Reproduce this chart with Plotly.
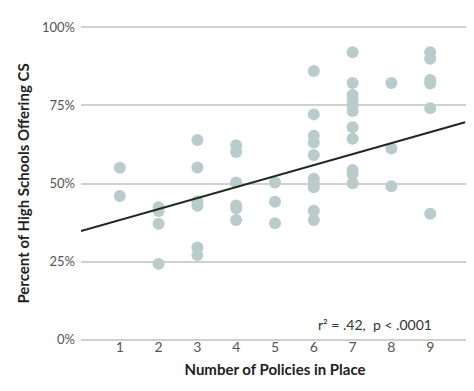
import plotly.graph_objects as go

# number of policies in place for each point
policies = [1, 1,
            2, 2, 2, 2,
            3, 3, 3, 3, 3, 3,
            4, 4, 4, 4, 4, 4,
            5, 5, 5,
            6, 6, 6, 6, 6, 6, 6, 6, 6, 6,
            7, 7, 7, 7, 7, 7, 7, 7, 7, 7, 7,
            8, 8, 8,
            9, 9, 9, 9, 9, 9]
# percent of high schools offering CS
percent = [55, 46,
           42.4, 41.2, 37.1, 24.3,
           63.9, 55.1, 44.3, 42.9, 29.5, 27.1,
           62.2, 60.1, 50.3, 43.0, 42.1, 38.3,
           50.3, 44.2, 37.3,
           86.0, 72.1, 65.3, 63.1, 59.1, 51.5, 50.1, 48.8, 41.3, 38.3,
           92.0, 82.1, 78.3, 76.6, 75.0, 73.2, 68.0, 64.3, 54.3, 53.0, 50.1,
           82.1, 61.2, 49.1,
           92.0, 89.9, 83.1, 82.0, 74.1, 40.3]

# fitted trend line end points
trend_x = [0, 9.9]
trend_y = [34.8, 69.6]

y_ticks = [0, 25, 50, 75, 100]
y_tick_labels = ["0%", "25%", "50%", "75%", "100%"]
x_ticks = [1, 2, 3, 4, 5, 6, 7, 8, 9]

FONT = "Lato"

fig = go.Figure()
fig.add_trace(go.Scatter(
    x=policies, y=percent, mode="markers",
    marker=dict(size=12, color="#bacbcb", line=dict(width=0)),
    showlegend=False, hoverinfo="skip"))
fig.add_trace(go.Scatter(
    x=trend_x, y=trend_y, mode="lines",
    line=dict(color="#1e2a1e", width=2),
    showlegend=False, hoverinfo="skip"))

fig.add_annotation(
    x=9.07, y=5, xref="x", yref="y", xanchor="right", yanchor="middle",
    text="r² = .42,  p < .0001", showarrow=False, borderpad=0,
    font=dict(family=FONT, size=14, color="#333333"))

fig.update_layout(
    width=474, height=391,
    margin=dict(l=73, r=13, t=16, b=56),
    paper_bgcolor="white", plot_bgcolor="white",
    font=dict(family=FONT, color="#555555"),
    xaxis=dict(range=[0, 10], tickvals=x_ticks, showgrid=False, zeroline=False,
               showline=False, ticks="", tickfont=dict(size=14, color="#555555"),
               ticklabelstandoff=-6,
               title=dict(text="<b>Number of Policies in Place</b>",
                          font=dict(family=FONT, size=15, color="#222222"),
                          standoff=10)),
    yaxis=dict(range=[-1, 101], tickvals=y_ticks, ticktext=y_tick_labels,
               showgrid=True, gridcolor="#d0d0d0", gridwidth=1.5,
               zeroline=False, showline=False, ticks="",
               tickfont=dict(size=13, color="#555555"), ticklabelstandoff=5,
               title=dict(text="<b>Percent of High Schools Offering CS</b>",
                          font=dict(family=FONT, size=15, color="#222222"),
                          standoff=8)),
)

fig.write_html("out.html")
